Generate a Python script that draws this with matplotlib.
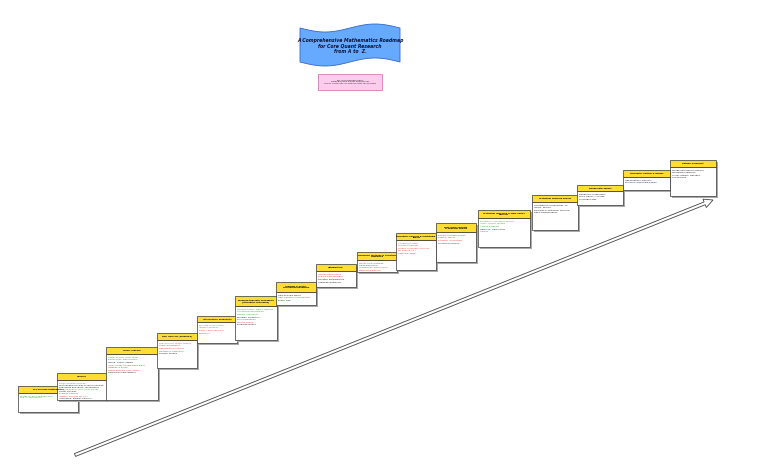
import numpy as np
import matplotlib.pyplot as plt
from matplotlib.patches import Rectangle, Polygon, FancyArrow

# stages of the roadmap
titles = ['Pre-calculus Mathematics', 'Calculus', 'Linear Algebra', 'Real Analysis (advanced)',
          'Introductory Probability', 'Measure-theoretic Probability\n(Stochastic Processes)',
          'Ordinary & Partial\nDifferential Equations', 'Optimization',
          'Numerical Methods & Scientific\nComputing', 'Stochastic Calculus & Martingale\nTheory',
          'Functional Analysis\n& Operator Theory', 'Statistical Inference & Time Series\nAnalysis',
          'Statistical Learning Theory', 'Rough Path Theory', 'Stochastic Control & Games',
          'Optimal Transport']
bodies = [
    [('Textbook: Basic Mathematics\nand its Applications', 'g')],
    [('Single-variable calculus', 'g'), ('Multivariable calculus & vector calculus', 'k'),
     ('Sequences and series, convergence', 'k'), ('Recommended: Calculus by Spivak', 'g'),
     ('Vector Calculus', 'k'), ('Thomas Calculus', 'r'), ('Apostol, Calculus Vol I & II', 'r'),
     ('Alternative: Stewart Calculus', 'k')],
    [('Vector spaces, linear maps', 'g'), ('Eigenvalues, eigenvectors', 'g'),
     ('Strang: Linear Algebra', 'k'), ('Axler: Linear Algebra Done Right', 'r'),
     ('Hoffman & Kunze', 'r'), ('Matrix analysis, SVD, norms', 'r'),
     ('Numerical linear algebra', 'k')],
    [('Real analysis, metric spaces', 'g'), ('Rudin: Principles of', 'r'),
     ('Mathematical Analysis', 'r'), ('Measure & integration', 'r'), ('Royden, Folland', 'k')],
    [('Discrete & continuous', 'g'), ('random variables', 'g'), ('Ross: A First Course in', 'r'),
     ('Probability', 'r')],
    [('Measure theory, sigma-algebras', 'g'), ('Conditional expectation', 'g'),
     ('Durrett: Probability', 'g'), ('Williams: Probability', 'k'),
     ('with Martingales', 'r'), ('Markov chains', 'r'), ('Brownian motion', 'k')],
    [('ODE and PDE theory', 'k'), ('Heat equation, Feynman-Kac', 'r'), ('Evans: PDE', 'k')],
    [('Convex optimization', 'r'), ('Boyd & Vandenberghe', 'r'), ('Dynamic programming', 'k'),
     ('Lagrange multipliers', 'k')],
    [('Monte Carlo methods', 'r'), ('Finite differences', 'r'), ('Glasserman: Monte Carlo', 'r'),
     ('Methods in Finance', 'r')],
    [('Ito calculus, SDEs', 'r'), ('Girsanov theorem', 'r'), ('Shreve: Stochastic Calculus', 'r'),
     ('for Finance I & II', 'r'), ('Oksendal: SDEs', 'r')],
    [('Banach & Hilbert spaces', 'r'), ('Spectral theory', 'r'), ('Kreyszig: Introductory', 'r'),
     ('Functional Analysis', 'k')],
    [('Estimation, hypothesis testing', 'g'), ('ARMA, GARCH models', 'g'),
     ('Casella & Berger', 'g'), ('Hamilton: Time Series', 'k'), ('Analysis', 'r')],
    [('Concentration inequalities, VC', 'k'), ('theory, kernels', 'k'),
     ('Elements of Statistical Learning', 'k'), ('Deep learning basics', 'k')],
    [('Signatures, rough paths', 'k'), ('Friz & Hairer: A Course', 'k'), ('on Rough Paths', 'k')],
    [('HJB equations, viscosity', 'k'), ('solutions, mean field games', 'k')],
    [('Monge-Kantorovich problem', 'k'), ('Wasserstein distance', 'k'),
     ('Villani: Optimal Transport', 'k'), ('Old and New', 'k')],
]
# box layout (pixel coordinates): left, right, header top, header bottom, body bottom
box_x0 = [18, 57, 106, 157, 197, 235, 276, 316, 357, 396, 436, 478, 532, 577, 623, 670]
box_x1 = [78, 107, 158, 197, 237, 277, 316, 356, 397, 436, 476, 530, 578, 623, 670, 716]
head_y0 = [386, 373, 347, 333, 316, 296, 282, 264, 252, 233, 223, 210, 195, 185, 170, 160]
head_y1 = [393, 380, 354, 340, 322, 306, 292, 271, 260, 240, 232, 218, 202, 191, 177, 167]
body_y1 = [412, 400, 400, 368, 343, 340, 305, 287, 272, 270, 262, 247, 230, 205, 190, 196]

colmap = {'g': '#22aa22', 'r': '#ee2222', 'k': '#111111'}

fig = plt.figure(figsize=(7.68, 4.73), dpi=100)
ax = fig.add_axes([0, 0, 1, 1])
ax.set_xlim(0, 768)
ax.set_ylim(473, 0)
ax.axis('off')

# long hollow arrow
ax.add_patch(FancyArrow(75, 455, 638, -255, width=3, head_width=9, head_length=9,
                        fc='white', ec='#444444', lw=0.6, length_includes_head=True))

for i in range(len(titles)):
    x0, x1 = box_x0[i], box_x1[i]
    w = x1 - x0
    ax.add_patch(Rectangle((x0 + 1.5, head_y0[i] + 1.5), w, body_y1[i] - head_y0[i],
                           fc='#aaaaaa', ec='none'))
    ax.add_patch(Rectangle((x0, head_y1[i]), w, body_y1[i] - head_y1[i],
                           fc='white', ec='#333333', lw=0.5))
    ax.add_patch(Rectangle((x0, head_y0[i]), w, head_y1[i] - head_y0[i],
                           fc='#ffdd33', ec='#333333', lw=0.5))
    ax.text((x0 + x1) / 2, (head_y0[i] + head_y1[i]) / 2, titles[i], fontsize=1.5,
            ha='center', va='center', fontweight='bold', linespacing=1.0)
    lines = bodies[i]
    step = min(2.6, (body_y1[i] - head_y1[i] - 3) / max(len(lines), 1))
    for j, (s, c) in enumerate(lines):
        ax.text(x0 + 2, head_y1[i] + 2.5 + j * step, s, fontsize=1.6, color=colmap[c],
                va='top', ha='left')

# title banner
t = np.linspace(0, 1, 60)
top = 28 + 4 * np.sin(2 * np.pi * t)
bot = 62 + 4 * np.sin(2 * np.pi * t)
xs = 300 + 100 * t
pts = np.vstack([np.column_stack([xs, top]), np.column_stack([xs[::-1], bot[::-1]])])
ax.add_patch(Polygon(pts, fc='#66aaff', ec='#3366cc', lw=0.6))
ax.text(350, 46, 'A Comprehensive Mathematics Roadmap\nfor Core Quant Research\nfrom A to  Z.',
        fontsize=3.3, ha='center', va='center', fontweight='bold', style='italic', color='#111133')
ax.add_patch(Rectangle((318, 74), 64, 16, fc='#ffccee', ec='#cc66aa', lw=0.5))
ax.text(350, 82, 'By: Mohammad Jamal\nDistinguished Quant Researcher\nSharif University of Science and Technology',
        fontsize=1.7, ha='center', va='center', color='#222222')

fig.savefig('out.png', dpi=100)
